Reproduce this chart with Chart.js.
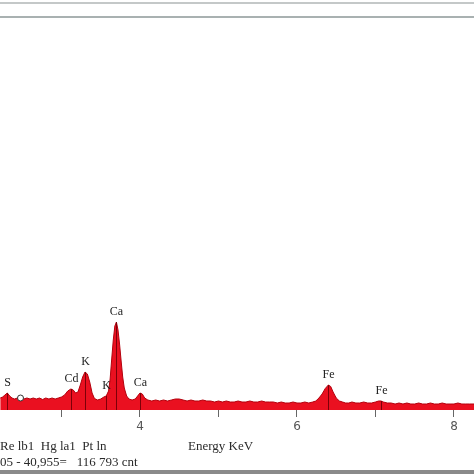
<!DOCTYPE html>
<html lang="en">
<head>
    <meta charset="UTF-8">
    <title>EDS spectrum</title>
    <script src="https://cdn.jsdelivr.net/npm/chart.js"></script>
    <style>
        html, body {
            margin: 0;
            padding: 0;
            background: #ffffff;
        }

        .frame {
            position: relative;
            width: 474px;
            height: 474px;
            overflow: hidden;
        }

        canvas {
            position: absolute;
            left: 0;
            top: 0;
        }

        .rule {
            position: absolute;
            left: 0;
            width: 474px;
        }

        .txt {
            position: absolute;
            font-family: "Liberation Serif", serif;
            font-size: 13px;
            color: #2a2a2a;
            white-space: pre;
        }
    </style>
</head>
<body>

<div class="frame">
    <canvas id="spectrum" width="474" height="474"></canvas>

    <!-- window frame lines -->
    <div class="rule" style="top:2px;height:2px;background:#c4c8c8;"></div>
    <div class="rule" style="top:16px;height:2px;background:#a9b1b1;"></div>
    <div class="rule" style="top:470px;height:4px;background:#8a8a8a;"></div>

    <!-- footer texts of the analyser -->
    <div class="txt" style="left:0;top:438px;">Re lb1  Hg la1  Pt ln</div>
    <div class="txt" style="left:188px;top:438px;">Energy KeV</div>
    <div class="txt" style="left:0;top:454px;">05 - 40,955=   116 793 cnt</div>
</div>

<script>
    // spectrum (energy in keV, counts)
    const energy = [
        2.22, 2.25, 2.28, 2.31, 2.34, 2.37, 2.40, 2.44, 2.48, 2.52,
        2.56, 2.60, 2.64, 2.68, 2.72, 2.76, 2.80, 2.84, 2.88, 2.92,
        2.96, 3.00, 3.04, 3.08, 3.12, 3.15, 3.18, 3.21, 3.24, 3.27,
        3.30, 3.33, 3.36, 3.39, 3.42, 3.46, 3.50, 3.54, 3.57, 3.60,
        3.62, 3.64, 3.66, 3.68, 3.70, 3.72, 3.74, 3.76, 3.78, 3.80,
        3.83, 3.86, 3.90, 3.94, 3.97, 4.00, 4.03, 4.06, 4.10, 4.15,
        4.20, 4.25, 4.30, 4.35, 4.40, 4.45, 4.50, 4.55, 4.60, 4.65,
        4.70, 4.75, 4.80, 4.85, 4.90, 4.95, 5.00, 5.05, 5.10, 5.15,
        5.20, 5.25, 5.30, 5.35, 5.40, 5.45, 5.50, 5.55, 5.60, 5.65,
        5.70, 5.75, 5.80, 5.85, 5.90, 5.95, 6.00, 6.05, 6.10, 6.15,
        6.20, 6.24, 6.28, 6.32, 6.36, 6.40, 6.43, 6.46, 6.50, 6.54,
        6.58, 6.62, 6.66, 6.70, 6.75, 6.80, 6.85, 6.90, 6.95, 7.00,
        7.04, 7.07, 7.10, 7.15, 7.20, 7.25, 7.30, 7.35, 7.40, 7.45,
        7.50, 7.55, 7.60, 7.65, 7.70, 7.75, 7.80, 7.85, 7.90, 7.95,
        8.00, 8.05, 8.10, 8.15, 8.20, 8.26
    ];
    const counts = [
        120, 130, 150, 170, 140, 120, 110, 120, 100, 110,
        120, 110, 120, 110, 120, 105, 120, 110, 120, 110,
        120, 130, 150, 190, 210, 200, 170, 180, 250, 330,
        380, 360, 280, 170, 115, 100, 110, 130, 140, 190,
        310, 510, 700, 840, 880, 800, 660, 490, 330, 220,
        140, 110, 100, 110, 140, 170, 160, 120, 100, 90,
        100, 90, 100, 90, 100, 110, 110, 100, 90, 100,
        90, 90, 100, 90, 90, 80, 90, 80, 90, 80,
        80, 90, 80, 80, 90, 80, 80, 90, 80, 80,
        80, 70, 80, 70, 70, 80, 70, 70, 80, 70,
        80, 90, 120, 160, 215, 250, 235, 180, 120, 90,
        80, 70, 70, 80, 70, 70, 80, 70, 70, 80,
        90, 90, 80, 70, 70, 60, 70, 60, 70, 60,
        60, 70, 60, 60, 70, 60, 60, 70, 60, 60,
        60, 70, 60, 60, 60, 60
    ];

    // identified peaks
    const peakNames = ['S', 'o', 'Cd', 'K', 'K', 'Ca', 'Ca', 'Fe', 'Fe'];
    const peakEnergy = [2.31, 2.47, 3.12, 3.30, 3.57, 3.70, 4.00, 6.40, 7.07];
    const peakCounts = [170, 100, 210, 380, 140, 880, 170, 250, 90];

    // x axis ticks and the ones that carry a label
    const xTicks = [3, 4, 5, 6, 7, 8];
    const xTickLabels = ['', '4', '', '6', '', '8'];

    // vertical marker line and element symbol above each peak
    const peakPlugin = {
        id: 'peakPlugin',
        afterDatasetsDraw(chart) {
            const ctx = chart.ctx;
            const x = chart.scales.x;
            const y = chart.scales.y;
            ctx.save();
            for (let i = 0; i < peakNames.length; i++) {
                const px = Math.round(x.getPixelForValue(peakEnergy[i])) + 0.5;
                const top = y.getPixelForValue(peakCounts[i]);
                if (peakNames[i] !== 'o') {
                    ctx.strokeStyle = '#7d0008';
                    ctx.lineWidth = 1;
                    ctx.beginPath();
                    ctx.moveTo(px, y.getPixelForValue(0));
                    ctx.lineTo(px, top);
                    ctx.stroke();
                }
                ctx.fillStyle = '#222222';
                ctx.font = '12px "Liberation Serif", serif';
                ctx.textAlign = 'center';
                ctx.textBaseline = 'bottom';
                if (peakNames[i] === 'o') {
                    ctx.fillStyle = '#ffffff';
                    ctx.strokeStyle = '#333333';
                    ctx.beginPath();
                    ctx.arc(px, top - 2, 3, 0, Math.PI * 2);
                    ctx.fill();
                    ctx.stroke();
                } else {
                    ctx.fillText(peakNames[i], px, top - 4);
                }
            }
            ctx.restore();
        }
    };

    const ctx1 = document.getElementById('spectrum').getContext('2d');
    const spectrumChart = new Chart(ctx1, {
        type: 'line',
        data: {
            datasets: [{
                label: 'Counts',
                data: energy.map((e, i) => ({ x: e, y: counts[i] })),
                borderColor: '#b3000c',
                borderWidth: 1,
                backgroundColor: '#ea1020',
                fill: 'origin',
                pointRadius: 0,
                tension: 0
            }]
        },
        options: {
            responsive: false,
            animation: false,
            layout: {
                padding: { top: 20, left: 0, right: 0, bottom: 0 }
            },
            plugins: {
                legend: { display: false },
                tooltip: { enabled: false }
            },
            scales: {
                x: {
                    type: 'linear',
                    min: 2.217,
                    max: 8.255,
                    border: { display: false },
                    grid: {
                        drawOnChartArea: false,
                        drawTicks: true,
                        tickLength: 7,
                        color: '#666666'
                    },
                    afterBuildTicks(scale) {
                        scale.ticks = xTicks.map(v => ({ value: v }));
                    },
                    afterFit(scale) {
                        scale.height = 64;
                    },
                    ticks: {
                        padding: 3,
                        color: '#555555',
                        font: { family: 'DejaVu Sans', size: 12 },
                        maxRotation: 0,
                        autoSkip: false,
                        callback: function(value) {
                            const k = xTicks.indexOf(value);
                            return k >= 0 ? xTickLabels[k] : '';
                        }
                    }
                },
                y: {
                    display: false,
                    min: 0,
                    max: 3900
                }
            }
        },
        plugins: [peakPlugin]
    });
</script>

</body>
</html>
